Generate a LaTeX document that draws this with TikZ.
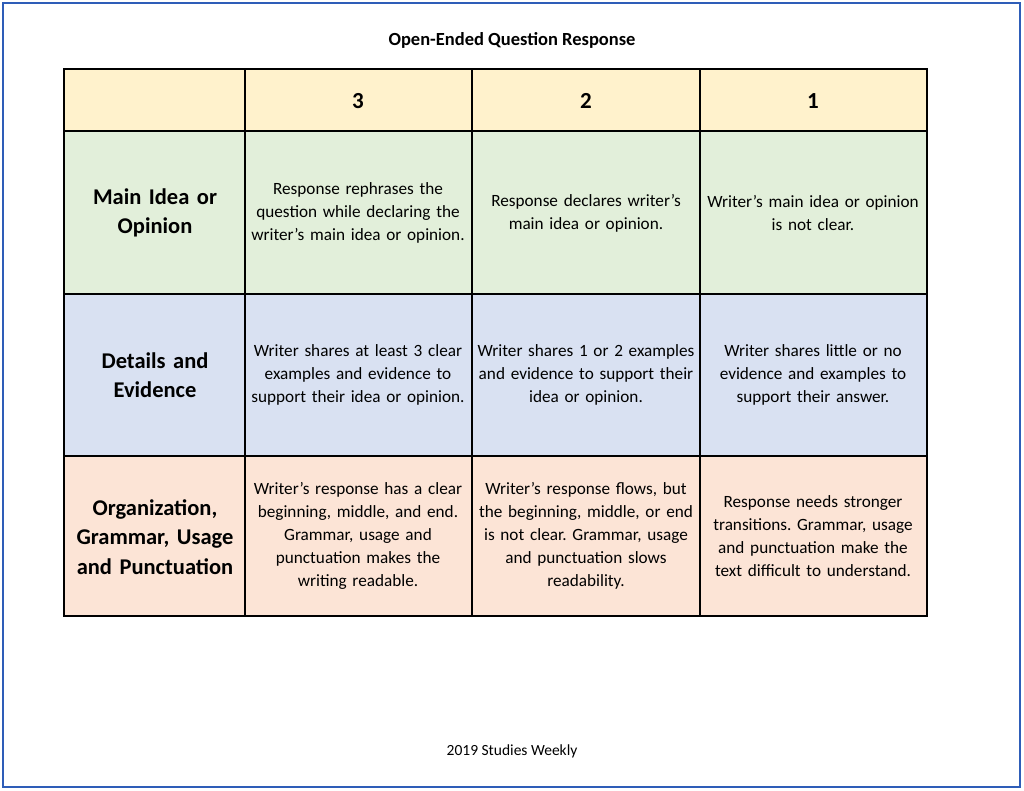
\documentclass[tikz,border=0pt]{standalone}
\usepackage{fontspec}
\setmainfont{Carlito}
\frenchspacing
\definecolor{bord}{HTML}{2E5DB8}
\definecolor{hdr}{HTML}{FFF2CC}
\definecolor{grn}{HTML}{E2EFDA}
\definecolor{blu}{HTML}{D9E1F2}
\definecolor{org}{HTML}{FCE4D6}
\begin{document}
\begin{tikzpicture}[x=1pt,y=-1pt,
 cell/.style={align=center,font=\fontsize{17.2}{23}\selectfont,text width=224pt},
 lab/.style={align=center,font=\fontsize{22.5}{29.5}\selectfont\bfseries,text width=178pt},
 num/.style={font=\fontsize{23}{26}\selectfont\bfseries}]
\useasboundingbox (0,0) rectangle (1024,791);
\fill[white] (0,0) rectangle (1024,791);
\draw[bord,line width=2pt] (3,3) rectangle (1020,787);
\fill[hdr] (64,69) rectangle (927,131);
\fill[grn] (64,131) rectangle (927,294);
\fill[blu] (64,294) rectangle (927,456);
\fill[org] (64,456) rectangle (927,616);
\draw[line width=2pt] (64,69) rectangle (927,616);
\foreach \x in {245,472,700} \draw[line width=1.5pt] (\x,69) -- (\x,616);
\foreach \y in {131,294,456} \draw[line width=1.5pt] (64,\y) -- (927,\y);
\node[font=\fontsize{18.5}{20}\selectfont\bfseries] (title) at (512,40) {Open-Ended Question Response};
\node[font=\fontsize{15.5}{18}\selectfont] (foot) at (512,751) {2019 Studies Weekly};
\node[num] (h3) at (358,101) {3};
\node[num] (h2) at (586,101) {2};
\node[num] (h1) at (813,101) {1};
\node[lab] (r1) at (155,213) {Main Idea or\\Opinion};
\node[lab] (r2) at (155,375) {Details and\\Evidence};
\node[lab] (r3) at (155,537) {Organization,\\Grammar, Usage\\and Punctuation};
\node[cell] (a1) at (358,213) {Response rephrases the\\question while declaring the\\writer's main idea or opinion.};
\node[cell] (b1) at (586,213) {Response declares writer's\\main idea or opinion.};
\node[cell] (c1) at (813,213) {Writer's main idea or opinion\\is not clear.};
\node[cell] (a2) at (358,375) {Writer shares at least 3 clear\\examples and evidence to\\support their idea or opinion.};
\node[cell] (b2) at (586,375) {Writer shares 1 or 2 examples\\and evidence to support their\\idea or opinion.};
\node[cell] (c2) at (813,375) {Writer shares little or no\\evidence and examples to\\support their answer.};
\node[cell] (a3) at (358,536) {Writer's response has a clear\\beginning, middle, and end.\\Grammar, usage and\\punctuation makes the\\writing readable.};
\node[cell] (b3) at (586,536) {Writer's response flows, but\\the beginning, middle, or end\\is not clear. Grammar, usage\\and punctuation slows\\readability.};
\node[cell] (c3) at (813,536) {Response needs stronger\\transitions. Grammar, usage\\and punctuation make the\\text difficult to understand.};
\end{tikzpicture}
\end{document}
